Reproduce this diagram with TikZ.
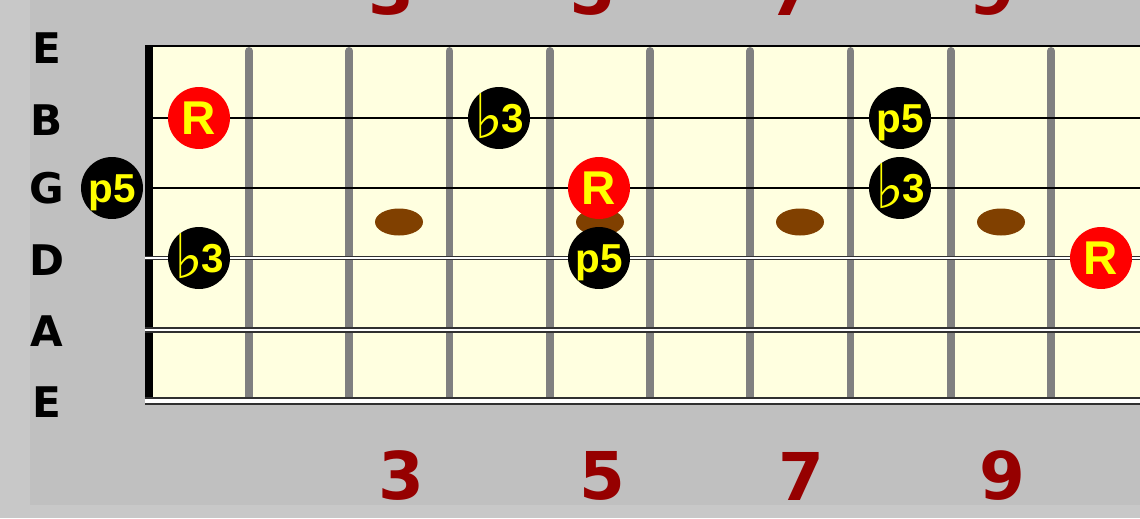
\documentclass[tikz,border=0pt]{standalone}
\usepackage{fontspec}
\newfontfamily\notefont{Liberation Sans}
\newfontfamily\labfont{DejaVu Sans}
\definecolor{board}{HTML}{FFFFE0}
\definecolor{bg}{HTML}{C0C0C0}
\definecolor{bgedge}{HTML}{C8C8C8}
\definecolor{fretgray}{HTML}{808080}
\definecolor{dotbrown}{HTML}{804000}
\definecolor{numred}{HTML}{960000}
\definecolor{noteyel}{HTML}{FFFF00}
\definecolor{wound}{HTML}{303030}
\newcommand{\fl}{\raisebox{-3.5pt}{\labfont\mdseries\fontsize{35}{35}\selectfont ♭}\kern-1pt}

\begin{document}
\begin{tikzpicture}[x=0.02cm,y=-0.02cm,
  note/.style={circle,fill=black,minimum size=1.24cm,inner sep=0pt,text=noteyel,
    font=\notefont\bfseries\fontsize{23}{23}\selectfont,text height=16.5pt,text depth=0pt},
  root/.style={note,fill=red,font=\notefont\bfseries\fontsize{27}{27}\selectfont,text height=19.3pt},
  strlab/.style={font=\labfont\bfseries\fontsize{24}{24}\selectfont},
  fretnum/.style={text=numred,font=\labfont\bfseries\fontsize{37.5}{37.5}\selectfont}]
\useasboundingbox (0,0) rectangle (1140,518);
\clip (0,0) rectangle (1140,518);
\fill[bgedge] (0,0) rectangle (1140,518);
\fill[bg] (30,0) rectangle (1140,505);
\fill[board] (145,46) rectangle (1140,401);
\draw[line width=0.9pt] (145,46) -- (1140,46);
\foreach \i in {0,...,8}
  \draw[fretgray,line width=4.5pt,line cap=round] ({249+100.25*\i},51) -- ({249+100.25*\i},398);
\foreach \x in {399,600,800,1001}
  \fill[dotbrown] (\x,222) ellipse [x radius=24,y radius=13.5];
\fill (145,46) rectangle (153,400);
\foreach \y in {118,188}
  \draw[line width=0.9pt] (145,\y) -- (1140,\y);
\foreach \y/\w/\c in {258/2.4/0.9,330/3.6/1.6,401/5/2.3}{
  \draw[wound,line width=\w pt] (145,\y) -- (1140,\y);
  \draw[white,line width=\c pt] (145,\y) -- (1140,\y);}
\node[root] (rB1) at (199,118) {R};
\node[note] (fB4) at (499,118) {\fl3};
\node[note] (pB8) at (900,118) {p5};
\node[note] (pG0) at (112,188) {p5};
\node[root] (rG5) at (599,188) {R};
\node[note] (fG8) at (900,188) {\fl3};
\node[note] (fD1) at (199,258) {\fl3};
\node[note] (pD5) at (599,258) {p5};
\node[root] (rD10) at (1101,258) {R};
\foreach \s/\y [count=\i] in {E/48,B/120,G/188,D/260,A/331,E/402}
  \node[strlab] (s\i) at (47,\y) {\s};
\foreach \n/\x in {3/401,5/602,7/801,9/1002}{
  \node[fretnum] (b\n) at (\x,476) {\n};
  \node[fretnum] (t\n) at ({\x-10},-9) {\n};}
\end{tikzpicture}
\end{document}
